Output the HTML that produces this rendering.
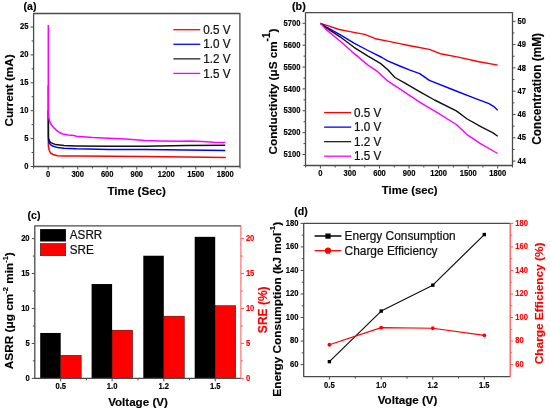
<!DOCTYPE html>
<html><head><meta charset="utf-8"><style>
html,body{margin:0;padding:0;background:#fff;width:550px;height:413px;overflow:hidden}
svg{display:block;font-family:"Liberation Sans",sans-serif;will-change:transform}
text{stroke-width:0.22px;stroke-linejoin:round}
text[font-weight="bold"]{stroke-width:0.15px;stroke-linejoin:round}
</style></head><body>
<svg width="550" height="413" viewBox="0 0 550 413">
<rect width="550" height="413" fill="#fff"/>
<line x1="33.6" y1="13.5" x2="239.9" y2="13.5" stroke="#4a4a4a" stroke-width="1.3"/>
<line x1="33.6" y1="166.5" x2="239.9" y2="166.5" stroke="#4a4a4a" stroke-width="1.3"/>
<line x1="33.6" y1="13" x2="33.6" y2="167" stroke="#4a4a4a" stroke-width="1.3"/>
<line x1="239.9" y1="13" x2="239.9" y2="167" stroke="#4a4a4a" stroke-width="1.3"/>
<line x1="30.6" y1="166.5" x2="33.6" y2="166.5" stroke="#4a4a4a" stroke-width="1.0"/>
<text transform="translate(28.4,168.6) scale(1,1.07)" font-size="7.6" font-weight="bold" text-anchor="end" fill="#000" stroke="#000" >0</text>
<line x1="30.6" y1="138.6" x2="33.6" y2="138.6" stroke="#4a4a4a" stroke-width="1.0"/>
<text transform="translate(28.4,140.7) scale(1,1.07)" font-size="7.6" font-weight="bold" text-anchor="end" fill="#000" stroke="#000" >5</text>
<line x1="30.6" y1="110.7" x2="33.6" y2="110.7" stroke="#4a4a4a" stroke-width="1.0"/>
<text transform="translate(28.4,112.8) scale(1,1.07)" font-size="7.6" font-weight="bold" text-anchor="end" fill="#000" stroke="#000" >10</text>
<line x1="30.6" y1="82.8" x2="33.6" y2="82.8" stroke="#4a4a4a" stroke-width="1.0"/>
<text transform="translate(28.4,84.9) scale(1,1.07)" font-size="7.6" font-weight="bold" text-anchor="end" fill="#000" stroke="#000" >15</text>
<line x1="30.6" y1="54.9" x2="33.6" y2="54.9" stroke="#4a4a4a" stroke-width="1.0"/>
<text transform="translate(28.4,57) scale(1,1.07)" font-size="7.6" font-weight="bold" text-anchor="end" fill="#000" stroke="#000" >20</text>
<line x1="30.6" y1="27" x2="33.6" y2="27" stroke="#4a4a4a" stroke-width="1.0"/>
<text transform="translate(28.4,29.1) scale(1,1.07)" font-size="7.6" font-weight="bold" text-anchor="end" fill="#000" stroke="#000" >25</text>
<line x1="31.6" y1="152.55" x2="33.6" y2="152.55" stroke="#4a4a4a" stroke-width="1.0"/>
<line x1="31.6" y1="124.65" x2="33.6" y2="124.65" stroke="#4a4a4a" stroke-width="1.0"/>
<line x1="31.6" y1="96.75" x2="33.6" y2="96.75" stroke="#4a4a4a" stroke-width="1.0"/>
<line x1="31.6" y1="68.85" x2="33.6" y2="68.85" stroke="#4a4a4a" stroke-width="1.0"/>
<line x1="31.6" y1="40.95" x2="33.6" y2="40.95" stroke="#4a4a4a" stroke-width="1.0"/>
<line x1="48.2" y1="166.5" x2="48.2" y2="169.5" stroke="#4a4a4a" stroke-width="1.0"/>
<text transform="translate(48.2,176.7) scale(1,1.07)" font-size="7.6" font-weight="bold" text-anchor="middle" fill="#000" stroke="#000" >0</text>
<line x1="77.72" y1="166.5" x2="77.72" y2="169.5" stroke="#4a4a4a" stroke-width="1.0"/>
<text transform="translate(77.72,176.7) scale(1,1.07)" font-size="7.6" font-weight="bold" text-anchor="middle" fill="#000" stroke="#000" >300</text>
<line x1="107.23" y1="166.5" x2="107.23" y2="169.5" stroke="#4a4a4a" stroke-width="1.0"/>
<text transform="translate(107.23,176.7) scale(1,1.07)" font-size="7.6" font-weight="bold" text-anchor="middle" fill="#000" stroke="#000" >600</text>
<line x1="136.75" y1="166.5" x2="136.75" y2="169.5" stroke="#4a4a4a" stroke-width="1.0"/>
<text transform="translate(136.75,176.7) scale(1,1.07)" font-size="7.6" font-weight="bold" text-anchor="middle" fill="#000" stroke="#000" >900</text>
<line x1="166.27" y1="166.5" x2="166.27" y2="169.5" stroke="#4a4a4a" stroke-width="1.0"/>
<text transform="translate(166.27,176.7) scale(1,1.07)" font-size="7.6" font-weight="bold" text-anchor="middle" fill="#000" stroke="#000" >1200</text>
<line x1="195.79" y1="166.5" x2="195.79" y2="169.5" stroke="#4a4a4a" stroke-width="1.0"/>
<text transform="translate(195.79,176.7) scale(1,1.07)" font-size="7.6" font-weight="bold" text-anchor="middle" fill="#000" stroke="#000" >1500</text>
<line x1="225.3" y1="166.5" x2="225.3" y2="169.5" stroke="#4a4a4a" stroke-width="1.0"/>
<text transform="translate(225.3,176.7) scale(1,1.07)" font-size="7.6" font-weight="bold" text-anchor="middle" fill="#000" stroke="#000" >1800</text>
<line x1="33.44" y1="166.5" x2="33.44" y2="168.5" stroke="#4a4a4a" stroke-width="1.0"/>
<line x1="62.96" y1="166.5" x2="62.96" y2="168.5" stroke="#4a4a4a" stroke-width="1.0"/>
<line x1="92.48" y1="166.5" x2="92.48" y2="168.5" stroke="#4a4a4a" stroke-width="1.0"/>
<line x1="121.99" y1="166.5" x2="121.99" y2="168.5" stroke="#4a4a4a" stroke-width="1.0"/>
<line x1="151.51" y1="166.5" x2="151.51" y2="168.5" stroke="#4a4a4a" stroke-width="1.0"/>
<line x1="181.03" y1="166.5" x2="181.03" y2="168.5" stroke="#4a4a4a" stroke-width="1.0"/>
<line x1="210.54" y1="166.5" x2="210.54" y2="168.5" stroke="#4a4a4a" stroke-width="1.0"/>
<line x1="240.06" y1="166.5" x2="240.06" y2="168.5" stroke="#4a4a4a" stroke-width="1.0"/>
<text id="pa" x="23.6" y="10.4" font-size="10.6" font-weight="bold" text-anchor="start" fill="#000" stroke="#000" >(a)</text>
<text id="xa" x="136.7" y="194.9" font-size="11.6" font-weight="bold" text-anchor="middle" fill="#000" stroke="#000" >Time (Sec)</text>
<text id="ya" transform="translate(13.2,90.5) rotate(-90)" font-size="11.7" font-weight="bold" text-anchor="middle" fill="#000" stroke="#000">Current (mA)</text>
<polyline points="48.3,139 48.4,146.3 49.3,150.5 50.5,153 53.7,154.8 57.5,155.8 64,156.1 76.4,156.1 109.1,156.3 145,156.6 185.9,156.9 225.8,157.5" fill="none" stroke="#ff0000" stroke-width="1.5" stroke-linejoin="round" stroke-linecap="butt"/>
<polyline points="48.3,85.5 48.4,138 48.8,142 50.5,144.6 52.7,146 57.6,147.6 64,148.2 76.4,148.8 109.1,149.5 145,149.6 185.9,149.9 225.2,150.4" fill="none" stroke="#0000ff" stroke-width="1.5" stroke-linejoin="round" stroke-linecap="butt"/>
<polyline points="48.3,110 48.4,138 49.5,141 50.8,142.6 55.6,144.6 64,145.6 76.4,145.9 109.1,146.3 145,146.2 185.9,145.6 225.2,145.3" fill="none" stroke="#111" stroke-width="1.5" stroke-linejoin="round" stroke-linecap="butt"/>
<polyline points="48.3,25.1 48.3,113 48.7,117.5 49.5,120.9 51.1,124.6 53.4,127.2 55.8,129.6 58.1,131.6 60.5,133 62.8,134 68,134.9 74,135.6 76.4,136.2 92.7,137.5 109.1,138.3 125.5,139.1 145,140.4 161.4,140.9 177.7,141.3 190.8,140.9 202.3,141.4 213.7,142.2 225.2,142.5" fill="none" stroke="#ff00ff" stroke-width="1.5" stroke-linejoin="round" stroke-linecap="butt"/>
<line x1="173.4" y1="29.7" x2="200.3" y2="29.7" stroke="#ff0000" stroke-width="1.3"/>
<text transform="translate(203.2,33.8) scale(1,1.07)" font-size="11.7" font-weight="normal" text-anchor="start" fill="#111" stroke="#111" >0.5 V</text>
<line x1="173.4" y1="44.27" x2="200.3" y2="44.27" stroke="#0000ff" stroke-width="1.3"/>
<text transform="translate(203.2,48.37) scale(1,1.07)" font-size="11.7" font-weight="normal" text-anchor="start" fill="#111" stroke="#111" >1.0 V</text>
<line x1="173.4" y1="58.84" x2="200.3" y2="58.84" stroke="#222" stroke-width="1.3"/>
<text transform="translate(203.2,62.94) scale(1,1.07)" font-size="11.7" font-weight="normal" text-anchor="start" fill="#111" stroke="#111" >1.2 V</text>
<line x1="173.4" y1="73.41" x2="200.3" y2="73.41" stroke="#ff00ff" stroke-width="1.3"/>
<text transform="translate(203.2,77.51) scale(1,1.07)" font-size="11.7" font-weight="normal" text-anchor="start" fill="#111" stroke="#111" >1.5 V</text>
<line x1="305.5" y1="12.7" x2="512.5" y2="12.7" stroke="#4a4a4a" stroke-width="1.3"/>
<line x1="305.5" y1="165.5" x2="512.5" y2="165.5" stroke="#4a4a4a" stroke-width="1.3"/>
<line x1="305.5" y1="12.2" x2="305.5" y2="166" stroke="#4a4a4a" stroke-width="1.3"/>
<line x1="512.5" y1="12.2" x2="512.5" y2="166" stroke="#4a4a4a" stroke-width="1.3"/>
<line x1="302.5" y1="154.52" x2="305.5" y2="154.52" stroke="#4a4a4a" stroke-width="1.0"/>
<text transform="translate(300.5,157.12) scale(1,1.07)" font-size="7.6" font-weight="bold" text-anchor="end" fill="#000" stroke="#000" >5100</text>
<line x1="302.5" y1="132.65" x2="305.5" y2="132.65" stroke="#4a4a4a" stroke-width="1.0"/>
<text transform="translate(300.5,135.25) scale(1,1.07)" font-size="7.6" font-weight="bold" text-anchor="end" fill="#000" stroke="#000" >5200</text>
<line x1="302.5" y1="110.78" x2="305.5" y2="110.78" stroke="#4a4a4a" stroke-width="1.0"/>
<text transform="translate(300.5,113.38) scale(1,1.07)" font-size="7.6" font-weight="bold" text-anchor="end" fill="#000" stroke="#000" >5300</text>
<line x1="302.5" y1="88.91" x2="305.5" y2="88.91" stroke="#4a4a4a" stroke-width="1.0"/>
<text transform="translate(300.5,91.51) scale(1,1.07)" font-size="7.6" font-weight="bold" text-anchor="end" fill="#000" stroke="#000" >5400</text>
<line x1="302.5" y1="67.04" x2="305.5" y2="67.04" stroke="#4a4a4a" stroke-width="1.0"/>
<text transform="translate(300.5,69.64) scale(1,1.07)" font-size="7.6" font-weight="bold" text-anchor="end" fill="#000" stroke="#000" >5500</text>
<line x1="302.5" y1="45.17" x2="305.5" y2="45.17" stroke="#4a4a4a" stroke-width="1.0"/>
<text transform="translate(300.5,47.77) scale(1,1.07)" font-size="7.6" font-weight="bold" text-anchor="end" fill="#000" stroke="#000" >5600</text>
<line x1="302.5" y1="23.3" x2="305.5" y2="23.3" stroke="#4a4a4a" stroke-width="1.0"/>
<text transform="translate(300.5,25.9) scale(1,1.07)" font-size="7.6" font-weight="bold" text-anchor="end" fill="#000" stroke="#000" >5700</text>
<line x1="303.5" y1="165.46" x2="305.5" y2="165.46" stroke="#4a4a4a" stroke-width="1.0"/>
<line x1="303.5" y1="143.59" x2="305.5" y2="143.59" stroke="#4a4a4a" stroke-width="1.0"/>
<line x1="303.5" y1="121.72" x2="305.5" y2="121.72" stroke="#4a4a4a" stroke-width="1.0"/>
<line x1="303.5" y1="99.84" x2="305.5" y2="99.84" stroke="#4a4a4a" stroke-width="1.0"/>
<line x1="303.5" y1="77.98" x2="305.5" y2="77.98" stroke="#4a4a4a" stroke-width="1.0"/>
<line x1="303.5" y1="56.11" x2="305.5" y2="56.11" stroke="#4a4a4a" stroke-width="1.0"/>
<line x1="303.5" y1="34.23" x2="305.5" y2="34.23" stroke="#4a4a4a" stroke-width="1.0"/>
<line x1="512.5" y1="161.1" x2="515.5" y2="161.1" stroke="#4a4a4a" stroke-width="1.0"/>
<text transform="translate(517.5,163.7) scale(1,1.07)" font-size="7.6" font-weight="bold" text-anchor="start" fill="#000" stroke="#000" >44</text>
<line x1="512.5" y1="137.8" x2="515.5" y2="137.8" stroke="#4a4a4a" stroke-width="1.0"/>
<text transform="translate(517.5,140.4) scale(1,1.07)" font-size="7.6" font-weight="bold" text-anchor="start" fill="#000" stroke="#000" >45</text>
<line x1="512.5" y1="114.5" x2="515.5" y2="114.5" stroke="#4a4a4a" stroke-width="1.0"/>
<text transform="translate(517.5,117.1) scale(1,1.07)" font-size="7.6" font-weight="bold" text-anchor="start" fill="#000" stroke="#000" >46</text>
<line x1="512.5" y1="91.2" x2="515.5" y2="91.2" stroke="#4a4a4a" stroke-width="1.0"/>
<text transform="translate(517.5,93.8) scale(1,1.07)" font-size="7.6" font-weight="bold" text-anchor="start" fill="#000" stroke="#000" >47</text>
<line x1="512.5" y1="67.9" x2="515.5" y2="67.9" stroke="#4a4a4a" stroke-width="1.0"/>
<text transform="translate(517.5,70.5) scale(1,1.07)" font-size="7.6" font-weight="bold" text-anchor="start" fill="#000" stroke="#000" >48</text>
<line x1="512.5" y1="44.6" x2="515.5" y2="44.6" stroke="#4a4a4a" stroke-width="1.0"/>
<text transform="translate(517.5,47.2) scale(1,1.07)" font-size="7.6" font-weight="bold" text-anchor="start" fill="#000" stroke="#000" >49</text>
<line x1="512.5" y1="21.3" x2="515.5" y2="21.3" stroke="#4a4a4a" stroke-width="1.0"/>
<text transform="translate(517.5,23.9) scale(1,1.07)" font-size="7.6" font-weight="bold" text-anchor="start" fill="#000" stroke="#000" >50</text>
<line x1="512.5" y1="149.45" x2="514.5" y2="149.45" stroke="#4a4a4a" stroke-width="1.0"/>
<line x1="512.5" y1="126.15" x2="514.5" y2="126.15" stroke="#4a4a4a" stroke-width="1.0"/>
<line x1="512.5" y1="102.85" x2="514.5" y2="102.85" stroke="#4a4a4a" stroke-width="1.0"/>
<line x1="512.5" y1="79.55" x2="514.5" y2="79.55" stroke="#4a4a4a" stroke-width="1.0"/>
<line x1="512.5" y1="56.25" x2="514.5" y2="56.25" stroke="#4a4a4a" stroke-width="1.0"/>
<line x1="512.5" y1="32.95" x2="514.5" y2="32.95" stroke="#4a4a4a" stroke-width="1.0"/>
<line x1="320.4" y1="165.5" x2="320.4" y2="168.5" stroke="#4a4a4a" stroke-width="1.0"/>
<text transform="translate(320.4,176.4) scale(1,1.07)" font-size="7.6" font-weight="bold" text-anchor="middle" fill="#000" stroke="#000" >0</text>
<line x1="349.95" y1="165.5" x2="349.95" y2="168.5" stroke="#4a4a4a" stroke-width="1.0"/>
<text transform="translate(349.95,176.4) scale(1,1.07)" font-size="7.6" font-weight="bold" text-anchor="middle" fill="#000" stroke="#000" >300</text>
<line x1="379.5" y1="165.5" x2="379.5" y2="168.5" stroke="#4a4a4a" stroke-width="1.0"/>
<text transform="translate(379.5,176.4) scale(1,1.07)" font-size="7.6" font-weight="bold" text-anchor="middle" fill="#000" stroke="#000" >600</text>
<line x1="409.05" y1="165.5" x2="409.05" y2="168.5" stroke="#4a4a4a" stroke-width="1.0"/>
<text transform="translate(409.05,176.4) scale(1,1.07)" font-size="7.6" font-weight="bold" text-anchor="middle" fill="#000" stroke="#000" >900</text>
<line x1="438.6" y1="165.5" x2="438.6" y2="168.5" stroke="#4a4a4a" stroke-width="1.0"/>
<text transform="translate(438.6,176.4) scale(1,1.07)" font-size="7.6" font-weight="bold" text-anchor="middle" fill="#000" stroke="#000" >1200</text>
<line x1="468.15" y1="165.5" x2="468.15" y2="168.5" stroke="#4a4a4a" stroke-width="1.0"/>
<text transform="translate(468.15,176.4) scale(1,1.07)" font-size="7.6" font-weight="bold" text-anchor="middle" fill="#000" stroke="#000" >1500</text>
<line x1="497.7" y1="165.5" x2="497.7" y2="168.5" stroke="#4a4a4a" stroke-width="1.0"/>
<text transform="translate(497.7,176.4) scale(1,1.07)" font-size="7.6" font-weight="bold" text-anchor="middle" fill="#000" stroke="#000" >1800</text>
<line x1="305.62" y1="165.5" x2="305.62" y2="167.5" stroke="#4a4a4a" stroke-width="1.0"/>
<line x1="335.17" y1="165.5" x2="335.17" y2="167.5" stroke="#4a4a4a" stroke-width="1.0"/>
<line x1="364.72" y1="165.5" x2="364.72" y2="167.5" stroke="#4a4a4a" stroke-width="1.0"/>
<line x1="394.27" y1="165.5" x2="394.27" y2="167.5" stroke="#4a4a4a" stroke-width="1.0"/>
<line x1="423.82" y1="165.5" x2="423.82" y2="167.5" stroke="#4a4a4a" stroke-width="1.0"/>
<line x1="453.38" y1="165.5" x2="453.38" y2="167.5" stroke="#4a4a4a" stroke-width="1.0"/>
<line x1="482.92" y1="165.5" x2="482.92" y2="167.5" stroke="#4a4a4a" stroke-width="1.0"/>
<line x1="512.48" y1="165.5" x2="512.48" y2="167.5" stroke="#4a4a4a" stroke-width="1.0"/>
<text id="pb" x="292" y="10.4" font-size="10.8" font-weight="bold" text-anchor="start" fill="#000" stroke="#000" >(b)</text>
<text id="xb" x="409.7" y="193.6" font-size="11.3" font-weight="bold" text-anchor="middle" fill="#000" stroke="#000" >Time (sec)</text>
<text id="yb" stroke="#000" transform="translate(277.0,91.5) rotate(-90)" font-size="11.7" font-weight="bold" text-anchor="middle">Conductivity (μS cm<tspan font-size="10" dy="-7">-1</tspan><tspan dy="7">)</tspan></text>
<text id="rb" transform="translate(540.8,88.9) rotate(-90)" font-size="11.85" font-weight="bold" text-anchor="middle" fill="#000" stroke="#000">Concentration (mM)</text>
<polyline points="320.4,23.3 328.3,25.9 339.2,29.5 351.3,31.9 364.6,34.4 375.5,38.7 387.6,41.1 399.7,43.6 410,45.7 429.4,49.4 440.3,53.7 458.4,57.1 477.8,61.5 497.7,65.1" fill="none" stroke="#ff0000" stroke-width="1.4" stroke-linejoin="round" stroke-linecap="butt"/>
<polyline points="320.4,23.3 326,26.9 340,34.7 354,43.2 368,50.5 382,57.5 387.6,60.8 399.7,66 410,70.2 419.7,73.6 429.4,80.4 453.6,90 474.4,98.2 489,103.6 493.5,106.3 497.7,110.3" fill="none" stroke="#0000ff" stroke-width="1.4" stroke-linejoin="round" stroke-linecap="butt"/>
<polyline points="320.4,23.3 326,27.6 340,36.8 354,47.3 368,56.1 380.4,63.4 387.6,69.5 394.9,77.5 404.6,82.8 420,91.8 434.5,100 456.3,110.9 467.2,119 481.7,127.2 492.6,132.6 497.7,136.3" fill="none" stroke="#111" stroke-width="1.4" stroke-linejoin="round" stroke-linecap="butt"/>
<polyline points="320.4,23.3 326,29.4 340,41 354,53.4 368,65.1 378,71.9 387.6,80.9 399.7,88.8 420,102.3 438.1,113.2 456.3,124.5 468.1,135.4 481.7,144.4 497.7,153.5" fill="none" stroke="#ff00ff" stroke-width="1.4" stroke-linejoin="round" stroke-linecap="butt"/>
<line x1="324.1" y1="112.6" x2="351.2" y2="112.6" stroke="#ff0000" stroke-width="1.3"/>
<text transform="translate(354,116.7) scale(1,1.07)" font-size="11.7" font-weight="normal" text-anchor="start" fill="#111" stroke="#111" >0.5 V</text>
<line x1="324.1" y1="127.13" x2="351.2" y2="127.13" stroke="#0000ff" stroke-width="1.3"/>
<text transform="translate(354,131.23) scale(1,1.07)" font-size="11.7" font-weight="normal" text-anchor="start" fill="#111" stroke="#111" >1.0 V</text>
<line x1="324.1" y1="141.66" x2="351.2" y2="141.66" stroke="#222" stroke-width="1.3"/>
<text transform="translate(354,145.76) scale(1,1.07)" font-size="11.7" font-weight="normal" text-anchor="start" fill="#111" stroke="#111" >1.2 V</text>
<line x1="324.1" y1="156.19" x2="351.2" y2="156.19" stroke="#ff00ff" stroke-width="1.3"/>
<text transform="translate(354,160.29) scale(1,1.07)" font-size="11.7" font-weight="normal" text-anchor="start" fill="#111" stroke="#111" >1.5 V</text>
<rect x="40.2" y="332.96" width="20.5" height="45.44" fill="#000"/>
<rect x="60.7" y="355.33" width="20.5" height="23.07" fill="#ff0000" stroke="#300" stroke-width="0.5"/>
<rect x="91.6" y="284.03" width="20.5" height="94.37" fill="#000"/>
<rect x="112.1" y="330.17" width="20.5" height="48.23" fill="#ff0000" stroke="#300" stroke-width="0.5"/>
<rect x="143.3" y="255.73" width="20.5" height="122.67" fill="#000"/>
<rect x="163.8" y="316.19" width="20.5" height="62.21" fill="#ff0000" stroke="#300" stroke-width="0.5"/>
<rect x="194.7" y="236.85" width="20.5" height="141.55" fill="#000"/>
<rect x="215.2" y="305.7" width="20.5" height="72.7" fill="#ff0000" stroke="#300" stroke-width="0.5"/>
<line x1="34.8" y1="225.9" x2="240.9" y2="225.9" stroke="#4a4a4a" stroke-width="1.3"/>
<line x1="34.8" y1="378.4" x2="240.9" y2="378.4" stroke="#4a4a4a" stroke-width="1.3"/>
<line x1="34.8" y1="225.4" x2="34.8" y2="378.9" stroke="#4a4a4a" stroke-width="1.3"/>
<line x1="240.9" y1="225.4" x2="240.9" y2="378.9" stroke="#ff5555" stroke-width="1.0"/>
<line x1="31.8" y1="378.4" x2="34.8" y2="378.4" stroke="#4a4a4a" stroke-width="1.0"/>
<text transform="translate(29.6,380.5) scale(1,1.07)" font-size="7.6" font-weight="bold" text-anchor="end" fill="#000" stroke="#000" >0</text>
<line x1="240.9" y1="378.4" x2="243.9" y2="378.4" stroke="#ff5555" stroke-width="1.0"/>
<text transform="translate(245.9,380.5) scale(1,1.07)" font-size="7.6" font-weight="bold" text-anchor="start" fill="#ff0000" stroke="#ff0000" >0</text>
<line x1="31.8" y1="343.45" x2="34.8" y2="343.45" stroke="#4a4a4a" stroke-width="1.0"/>
<text transform="translate(29.6,345.55) scale(1,1.07)" font-size="7.6" font-weight="bold" text-anchor="end" fill="#000" stroke="#000" >5</text>
<line x1="240.9" y1="343.45" x2="243.9" y2="343.45" stroke="#ff5555" stroke-width="1.0"/>
<text transform="translate(245.9,345.55) scale(1,1.07)" font-size="7.6" font-weight="bold" text-anchor="start" fill="#ff0000" stroke="#ff0000" >5</text>
<line x1="31.8" y1="308.5" x2="34.8" y2="308.5" stroke="#4a4a4a" stroke-width="1.0"/>
<text transform="translate(29.6,310.6) scale(1,1.07)" font-size="7.6" font-weight="bold" text-anchor="end" fill="#000" stroke="#000" >10</text>
<line x1="240.9" y1="308.5" x2="243.9" y2="308.5" stroke="#ff5555" stroke-width="1.0"/>
<text transform="translate(245.9,310.6) scale(1,1.07)" font-size="7.6" font-weight="bold" text-anchor="start" fill="#ff0000" stroke="#ff0000" >10</text>
<line x1="31.8" y1="273.55" x2="34.8" y2="273.55" stroke="#4a4a4a" stroke-width="1.0"/>
<text transform="translate(29.6,275.65) scale(1,1.07)" font-size="7.6" font-weight="bold" text-anchor="end" fill="#000" stroke="#000" >15</text>
<line x1="240.9" y1="273.55" x2="243.9" y2="273.55" stroke="#ff5555" stroke-width="1.0"/>
<text transform="translate(245.9,275.65) scale(1,1.07)" font-size="7.6" font-weight="bold" text-anchor="start" fill="#ff0000" stroke="#ff0000" >15</text>
<line x1="31.8" y1="238.6" x2="34.8" y2="238.6" stroke="#4a4a4a" stroke-width="1.0"/>
<text transform="translate(29.6,240.7) scale(1,1.07)" font-size="7.6" font-weight="bold" text-anchor="end" fill="#000" stroke="#000" >20</text>
<line x1="240.9" y1="238.6" x2="243.9" y2="238.6" stroke="#ff5555" stroke-width="1.0"/>
<text transform="translate(245.9,240.7) scale(1,1.07)" font-size="7.6" font-weight="bold" text-anchor="start" fill="#ff0000" stroke="#ff0000" >20</text>
<line x1="32.8" y1="360.92" x2="34.8" y2="360.92" stroke="#4a4a4a" stroke-width="1.0"/>
<line x1="240.9" y1="360.92" x2="242.9" y2="360.92" stroke="#ff5555" stroke-width="1.0"/>
<line x1="32.8" y1="325.97" x2="34.8" y2="325.97" stroke="#4a4a4a" stroke-width="1.0"/>
<line x1="240.9" y1="325.97" x2="242.9" y2="325.97" stroke="#ff5555" stroke-width="1.0"/>
<line x1="32.8" y1="291.02" x2="34.8" y2="291.02" stroke="#4a4a4a" stroke-width="1.0"/>
<line x1="240.9" y1="291.02" x2="242.9" y2="291.02" stroke="#ff5555" stroke-width="1.0"/>
<line x1="32.8" y1="256.07" x2="34.8" y2="256.07" stroke="#4a4a4a" stroke-width="1.0"/>
<line x1="240.9" y1="256.07" x2="242.9" y2="256.07" stroke="#ff5555" stroke-width="1.0"/>
<line x1="60.7" y1="378.4" x2="60.7" y2="381.4" stroke="#4a4a4a" stroke-width="1.0"/>
<text transform="translate(60.7,389.3) scale(1,1.07)" font-size="7.6" font-weight="bold" text-anchor="middle" fill="#000" stroke="#000" >0.5</text>
<line x1="112.1" y1="378.4" x2="112.1" y2="381.4" stroke="#4a4a4a" stroke-width="1.0"/>
<text transform="translate(112.1,389.3) scale(1,1.07)" font-size="7.6" font-weight="bold" text-anchor="middle" fill="#000" stroke="#000" >1.0</text>
<line x1="163.8" y1="378.4" x2="163.8" y2="381.4" stroke="#4a4a4a" stroke-width="1.0"/>
<text transform="translate(163.8,389.3) scale(1,1.07)" font-size="7.6" font-weight="bold" text-anchor="middle" fill="#000" stroke="#000" >1.2</text>
<line x1="215.2" y1="378.4" x2="215.2" y2="381.4" stroke="#4a4a4a" stroke-width="1.0"/>
<text transform="translate(215.2,389.3) scale(1,1.07)" font-size="7.6" font-weight="bold" text-anchor="middle" fill="#000" stroke="#000" >1.5</text>
<line x1="86.4" y1="378.4" x2="86.4" y2="380.4" stroke="#4a4a4a" stroke-width="1.0"/>
<line x1="137.95" y1="378.4" x2="137.95" y2="380.4" stroke="#4a4a4a" stroke-width="1.0"/>
<line x1="189.5" y1="378.4" x2="189.5" y2="380.4" stroke="#4a4a4a" stroke-width="1.0"/>
<text id="pc" x="27.6" y="218.8" font-size="10.6" font-weight="bold" text-anchor="start" fill="#000" stroke="#000" >(c)</text>
<text id="xc" x="138" y="405.5" font-size="11.6" font-weight="bold" text-anchor="middle" fill="#000" stroke="#000" >Voltage (V)</text>
<text id="yc" stroke="#000" transform="translate(13.3,310.7) rotate(-90)" font-size="11.8" font-weight="bold" text-anchor="middle">ASRR (μg cm<tspan font-size="7.5" dy="-5.5">-2</tspan><tspan dy="5.5"> min</tspan><tspan font-size="7.5" dy="-5.5">-1</tspan><tspan dy="5.5">)</tspan></text>
<text id="rc" transform="translate(267.2,309.8) rotate(-90)" font-size="12" font-weight="bold" text-anchor="middle" fill="#ff0000" stroke="#ff0000">SRE (%)</text>
<rect x="40.1" y="229.1" width="25.8" height="12.4" fill="#000"/>
<rect x="40.3" y="243.6" width="25.4" height="12.1" fill="#ff0000" stroke="#222" stroke-width="0.6"/>
<text transform="translate(69.8,239.1) scale(1,1.07)" font-size="11.7" font-weight="normal" text-anchor="start" fill="#111" stroke="#111" >ASRR</text>
<text transform="translate(69.8,253.7) scale(1,1.07)" font-size="11.7" font-weight="normal" text-anchor="start" fill="#111" stroke="#111" >SRE</text>
<line x1="303.7" y1="223.4" x2="510.2" y2="223.4" stroke="#4a4a4a" stroke-width="1.3"/>
<line x1="303.7" y1="376.6" x2="510.2" y2="376.6" stroke="#4a4a4a" stroke-width="1.3"/>
<line x1="303.7" y1="222.9" x2="303.7" y2="377.1" stroke="#4a4a4a" stroke-width="1.3"/>
<line x1="510.2" y1="222.9" x2="510.2" y2="377.1" stroke="#ff5555" stroke-width="1.3"/>
<line x1="300.7" y1="364.6" x2="303.7" y2="364.6" stroke="#4a4a4a" stroke-width="1.0"/>
<text transform="translate(298.5,366.7) scale(1,1.07)" font-size="7.6" font-weight="bold" text-anchor="end" fill="#000" stroke="#000" >60</text>
<line x1="510.2" y1="364.6" x2="513.2" y2="364.6" stroke="#ff5555" stroke-width="1.0"/>
<text transform="translate(515.2,366.7) scale(1,1.07)" font-size="7.6" font-weight="bold" text-anchor="start" fill="#ff0000" stroke="#ff0000" >60</text>
<line x1="300.7" y1="341.07" x2="303.7" y2="341.07" stroke="#4a4a4a" stroke-width="1.0"/>
<text transform="translate(298.5,343.17) scale(1,1.07)" font-size="7.6" font-weight="bold" text-anchor="end" fill="#000" stroke="#000" >80</text>
<line x1="510.2" y1="341.07" x2="513.2" y2="341.07" stroke="#ff5555" stroke-width="1.0"/>
<text transform="translate(515.2,343.17) scale(1,1.07)" font-size="7.6" font-weight="bold" text-anchor="start" fill="#ff0000" stroke="#ff0000" >80</text>
<line x1="300.7" y1="317.53" x2="303.7" y2="317.53" stroke="#4a4a4a" stroke-width="1.0"/>
<text transform="translate(298.5,319.63) scale(1,1.07)" font-size="7.6" font-weight="bold" text-anchor="end" fill="#000" stroke="#000" >100</text>
<line x1="510.2" y1="317.53" x2="513.2" y2="317.53" stroke="#ff5555" stroke-width="1.0"/>
<text transform="translate(515.2,319.63) scale(1,1.07)" font-size="7.6" font-weight="bold" text-anchor="start" fill="#ff0000" stroke="#ff0000" >100</text>
<line x1="300.7" y1="294" x2="303.7" y2="294" stroke="#4a4a4a" stroke-width="1.0"/>
<text transform="translate(298.5,296.1) scale(1,1.07)" font-size="7.6" font-weight="bold" text-anchor="end" fill="#000" stroke="#000" >120</text>
<line x1="510.2" y1="294" x2="513.2" y2="294" stroke="#ff5555" stroke-width="1.0"/>
<text transform="translate(515.2,296.1) scale(1,1.07)" font-size="7.6" font-weight="bold" text-anchor="start" fill="#ff0000" stroke="#ff0000" >120</text>
<line x1="300.7" y1="270.46" x2="303.7" y2="270.46" stroke="#4a4a4a" stroke-width="1.0"/>
<text transform="translate(298.5,272.56) scale(1,1.07)" font-size="7.6" font-weight="bold" text-anchor="end" fill="#000" stroke="#000" >140</text>
<line x1="510.2" y1="270.46" x2="513.2" y2="270.46" stroke="#ff5555" stroke-width="1.0"/>
<text transform="translate(515.2,272.56) scale(1,1.07)" font-size="7.6" font-weight="bold" text-anchor="start" fill="#ff0000" stroke="#ff0000" >140</text>
<line x1="300.7" y1="246.93" x2="303.7" y2="246.93" stroke="#4a4a4a" stroke-width="1.0"/>
<text transform="translate(298.5,249.03) scale(1,1.07)" font-size="7.6" font-weight="bold" text-anchor="end" fill="#000" stroke="#000" >160</text>
<line x1="510.2" y1="246.93" x2="513.2" y2="246.93" stroke="#ff5555" stroke-width="1.0"/>
<text transform="translate(515.2,249.03) scale(1,1.07)" font-size="7.6" font-weight="bold" text-anchor="start" fill="#ff0000" stroke="#ff0000" >160</text>
<line x1="300.7" y1="223.4" x2="303.7" y2="223.4" stroke="#4a4a4a" stroke-width="1.0"/>
<text transform="translate(298.5,225.5) scale(1,1.07)" font-size="7.6" font-weight="bold" text-anchor="end" fill="#000" stroke="#000" >180</text>
<line x1="510.2" y1="223.4" x2="513.2" y2="223.4" stroke="#ff5555" stroke-width="1.0"/>
<text transform="translate(515.2,225.5) scale(1,1.07)" font-size="7.6" font-weight="bold" text-anchor="start" fill="#ff0000" stroke="#ff0000" >180</text>
<line x1="301.7" y1="352.83" x2="303.7" y2="352.83" stroke="#4a4a4a" stroke-width="1.0"/>
<line x1="510.2" y1="352.83" x2="512.2" y2="352.83" stroke="#ff5555" stroke-width="1.0"/>
<line x1="301.7" y1="329.3" x2="303.7" y2="329.3" stroke="#4a4a4a" stroke-width="1.0"/>
<line x1="510.2" y1="329.3" x2="512.2" y2="329.3" stroke="#ff5555" stroke-width="1.0"/>
<line x1="301.7" y1="305.77" x2="303.7" y2="305.77" stroke="#4a4a4a" stroke-width="1.0"/>
<line x1="510.2" y1="305.77" x2="512.2" y2="305.77" stroke="#ff5555" stroke-width="1.0"/>
<line x1="301.7" y1="282.23" x2="303.7" y2="282.23" stroke="#4a4a4a" stroke-width="1.0"/>
<line x1="510.2" y1="282.23" x2="512.2" y2="282.23" stroke="#ff5555" stroke-width="1.0"/>
<line x1="301.7" y1="258.7" x2="303.7" y2="258.7" stroke="#4a4a4a" stroke-width="1.0"/>
<line x1="510.2" y1="258.7" x2="512.2" y2="258.7" stroke="#ff5555" stroke-width="1.0"/>
<line x1="301.7" y1="235.16" x2="303.7" y2="235.16" stroke="#4a4a4a" stroke-width="1.0"/>
<line x1="510.2" y1="235.16" x2="512.2" y2="235.16" stroke="#ff5555" stroke-width="1.0"/>
<line x1="329.4" y1="376.6" x2="329.4" y2="379.6" stroke="#4a4a4a" stroke-width="1.0"/>
<text transform="translate(329.4,387.8) scale(1,1.07)" font-size="7.6" font-weight="bold" text-anchor="middle" fill="#000" stroke="#000" >0.5</text>
<line x1="381.2" y1="376.6" x2="381.2" y2="379.6" stroke="#4a4a4a" stroke-width="1.0"/>
<text transform="translate(381.2,387.8) scale(1,1.07)" font-size="7.6" font-weight="bold" text-anchor="middle" fill="#000" stroke="#000" >1.0</text>
<line x1="432.8" y1="376.6" x2="432.8" y2="379.6" stroke="#4a4a4a" stroke-width="1.0"/>
<text transform="translate(432.8,387.8) scale(1,1.07)" font-size="7.6" font-weight="bold" text-anchor="middle" fill="#000" stroke="#000" >1.2</text>
<line x1="484.3" y1="376.6" x2="484.3" y2="379.6" stroke="#4a4a4a" stroke-width="1.0"/>
<text transform="translate(484.3,387.8) scale(1,1.07)" font-size="7.6" font-weight="bold" text-anchor="middle" fill="#000" stroke="#000" >1.5</text>
<line x1="355.3" y1="376.6" x2="355.3" y2="378.6" stroke="#4a4a4a" stroke-width="1.0"/>
<line x1="407" y1="376.6" x2="407" y2="378.6" stroke="#4a4a4a" stroke-width="1.0"/>
<line x1="458.5" y1="376.6" x2="458.5" y2="378.6" stroke="#4a4a4a" stroke-width="1.0"/>
<text id="pd" x="294.3" y="214.6" font-size="10.6" font-weight="bold" text-anchor="start" fill="#000" stroke="#000" >(d)</text>
<text id="xd" x="407.6" y="403.5" font-size="11.6" font-weight="bold" text-anchor="middle" fill="#000" stroke="#000" >Voltage (V)</text>
<text id="yd" stroke="#000" transform="translate(280.5,309.2) rotate(-90)" font-size="11.8" font-weight="bold" text-anchor="middle">Energy Consumption (kJ mol<tspan font-size="8" dy="-5.5">-1</tspan><tspan dy="5.5">)</tspan></text>
<text id="rd" transform="translate(542.5,303.4) rotate(-90)" font-size="11.84" font-weight="bold" text-anchor="middle" fill="#ff0000" stroke="#ff0000">Charge Efficiency (%)</text>
<polyline points="329.4,361.66 381.2,311.06 432.8,285.17 484.3,234.57" fill="none" stroke="#111" stroke-width="1.2" stroke-linejoin="round" stroke-linecap="butt"/>
<polyline points="329.4,344.77 381.2,327.65 432.8,328.24 484.3,335.3" fill="none" stroke="#ff0000" stroke-width="1.2" stroke-linejoin="round" stroke-linecap="butt"/>
<rect x="327.7" y="359.96" width="3.4" height="3.4" fill="#000"/>
<circle cx="329.4" cy="344.77" r="1.9" fill="#ff0000"/>
<rect x="379.5" y="309.36" width="3.4" height="3.4" fill="#000"/>
<circle cx="381.2" cy="327.65" r="1.9" fill="#ff0000"/>
<rect x="431.1" y="283.47" width="3.4" height="3.4" fill="#000"/>
<circle cx="432.8" cy="328.24" r="1.9" fill="#ff0000"/>
<rect x="482.6" y="232.87" width="3.4" height="3.4" fill="#000"/>
<circle cx="484.3" cy="335.3" r="1.9" fill="#ff0000"/>
<line x1="314.6" y1="236" x2="341.4" y2="236" stroke="#222" stroke-width="1.7"/>
<rect x="325.4" y="233.5" width="5.2" height="5.2" fill="#000"/>
<line x1="314.6" y1="250.7" x2="341.4" y2="250.7" stroke="#ff0000" stroke-width="1.3"/>
<circle cx="328" cy="250.7" r="3.1" fill="#ff0000"/>
<text transform="translate(344.6,240.2) scale(1,1.07)" font-size="11.9" font-weight="normal" text-anchor="start" fill="#111" stroke="#111" >Energy Consumption</text>
<text transform="translate(344.6,254.8) scale(1,1.07)" font-size="11.9" font-weight="normal" text-anchor="start" fill="#111" stroke="#111" >Charge Efficiency</text>
</svg>
</body></html>
